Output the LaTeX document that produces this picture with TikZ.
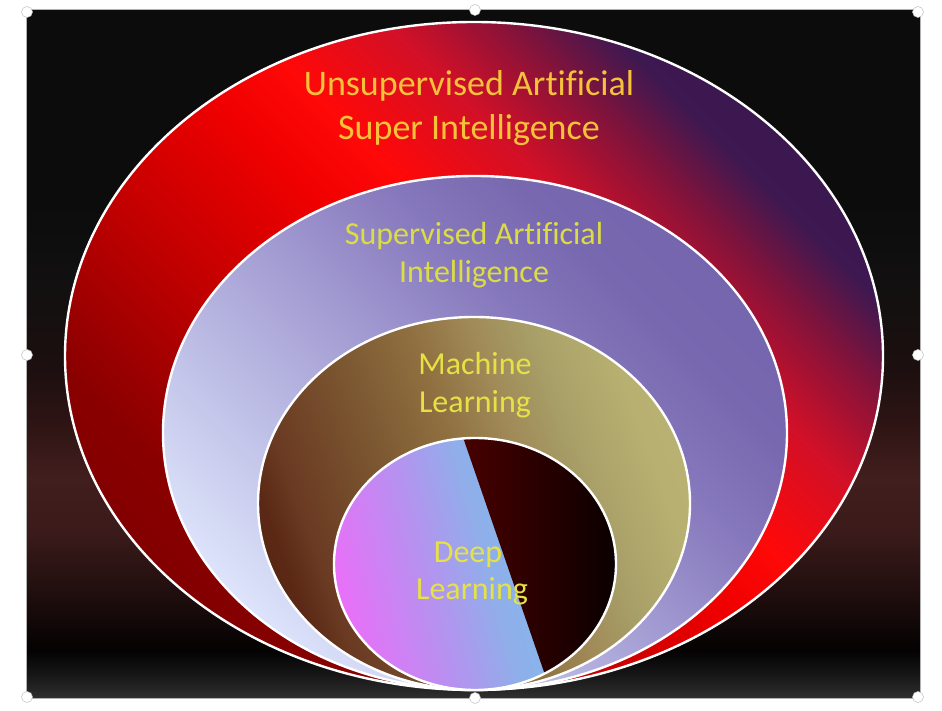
\documentclass[tikz,border=0pt]{standalone}
\usepackage{fontspec}
\setmainfont{Carlito}[Ligatures=NoCommon]
% background colours (bottom to top)
\definecolor{bga}{HTML}{303030}
\definecolor{bgb}{HTML}{1A1A1A}
\definecolor{bgc}{HTML}{040202}
\definecolor{bgd}{HTML}{1C0C0C}
\definecolor{bge}{HTML}{3A1A1A}
\definecolor{bgf}{HTML}{421E1E}
\definecolor{bgg}{HTML}{2E1414}
\definecolor{bgh}{HTML}{1C0F0F}
\definecolor{bgi}{HTML}{121010}
\definecolor{bgj}{HTML}{0C0C0C}
% outer ring
\definecolor{oa}{HTML}{600000}
\definecolor{ob}{HTML}{8A0000}
\definecolor{oc}{HTML}{C00000}
\definecolor{od}{HTML}{F00000}
\definecolor{oe}{HTML}{FF0808}
\definecolor{of}{HTML}{D01028}
\definecolor{og}{HTML}{8C1238}
\definecolor{oh}{HTML}{3E1850}
\definecolor{oi}{HTML}{2A1850}
% supervised
\definecolor{sa}{HTML}{F4F8FF}
\definecolor{sb}{HTML}{E4ECFF}
\definecolor{sc}{HTML}{C4C6EA}
\definecolor{sd}{HTML}{A098D0}
\definecolor{se}{HTML}{8678BC}
\definecolor{sf}{HTML}{7868B0}
\definecolor{sg}{HTML}{6C5CA8}
% machine learning
\definecolor{ma}{HTML}{4A2010}
\definecolor{mb}{HTML}{5A2814}
\definecolor{mc}{HTML}{6A3A22}
\definecolor{md}{HTML}{7A5530}
\definecolor{me}{HTML}{907040}
\definecolor{mf}{HTML}{A08A58}
\definecolor{mg}{HTML}{A8A068}
\definecolor{mh}{HTML}{B8B070}
\definecolor{mi}{HTML}{C0B878}
% deep learning
\definecolor{da}{HTML}{E870F8}
\definecolor{db}{HTML}{B890F0}
\definecolor{dc}{HTML}{90AEEA}
\definecolor{dd}{HTML}{70C8E8}
\definecolor{dra}{HTML}{4A0000}
\definecolor{drb}{HTML}{000000}
% text
\definecolor{txtgold}{HTML}{F5C23A}
\definecolor{txtyel}{HTML}{DCDC44}
\definecolor{txtml}{HTML}{E6E246}
\pgfdeclareverticalshading{bgshade}{100bp}{color(0bp)=(bga); color(25bp)=(bga); color(26.5bp)=(bgb); color(28.5bp)=(bgc); color(32bp)=(bgd); color(37bp)=(bge); color(41bp)=(bgf); color(45bp)=(bgg); color(49bp)=(bgh); color(55bp)=(bgi); color(61bp)=(bgj); color(100bp)=(bgj)}
\pgfdeclarehorizontalshading{outershade}{100bp}{color(0bp)=(oa); color(30bp)=(ob); color(40bp)=(oc); color(50bp)=(od); color(55bp)=(oe); color(62bp)=(of); color(67bp)=(og); color(72bp)=(oh); color(100bp)=(oi)}
\pgfdeclarehorizontalshading{supshade}{100bp}{color(0bp)=(sa); color(22bp)=(sb); color(35bp)=(sc); color(50bp)=(sd); color(60bp)=(se); color(68bp)=(sf); color(100bp)=(sg)}
\pgfdeclarehorizontalshading{mlshade}{100bp}{color(0bp)=(ma); color(26bp)=(mb); color(30bp)=(mc); color(40bp)=(md); color(50bp)=(me); color(57bp)=(mf); color(64bp)=(mg); color(72bp)=(mh); color(100bp)=(mi)}
\pgfdeclarehorizontalshading{dlleft}{100bp}{color(0bp)=(da); color(25bp)=(da); color(40bp)=(db); color(52bp)=(dc); color(75bp)=(dd); color(100bp)=(dd)}
\pgfdeclarehorizontalshading{dlright}{100bp}{color(0bp)=(dra); color(25bp)=(dra); color(75bp)=(drb); color(100bp)=(drb)}
\begin{document}
\begin{tikzpicture}[x=1pt,y=1pt,
  ring/.style={draw=white, line width=2.4},
  lbl/.style={font=\fontsize{32}{38}\selectfont, anchor=base, inner sep=0pt, text=txtyel},
  handle/.style={fill=white, draw=black!25, line width=0.5}]
\useasboundingbox (0,0) rectangle (942,711);
% frame background
\path[shading=bgshade] (26,12) rectangle (920,701);
\draw[black!30, line width=1] (26,12) rectangle (920,701);
% outer ellipse
\path[ring, shading=outershade, shading angle=45] (474,355) ellipse [x radius=409, y radius=334];
% supervised
\path[ring, shading=supshade, shading angle=45] (475,278) ellipse [x radius=312, y radius=257];
% machine learning
\path[ring, shading=mlshade, shading angle=20] (474,207.5) ellipse [x radius=216, y radius=186.5];
% deep learning
\path[shading=dlleft, shading angle=15] (475,147) ellipse [x radius=141, y radius=126];
\begin{scope}
\clip (475,147) ellipse [x radius=141, y radius=126];
\path[shading=dlright] (457,291) -- (553.7,11) -- (640,11) -- (640,291) -- cycle;
\end{scope}
\draw[ring] (475,147) ellipse [x radius=141, y radius=126];
% labels
\node[lbl, text=txtgold, font=\fontsize{36}{44}\selectfont] (u1) at (469,615) {Unsupervised Artificial};
\node[lbl, text=txtgold, font=\fontsize{36}{44}\selectfont] (u2) at (469,571) {Super Intelligence};
\node[lbl] (s1) at (474,466) {Supervised Artificial};
\node[lbl] (s2) at (474,428) {Intelligence};
\node[lbl, text=txtml] (m1) at (475,336) {Machine};
\node[lbl, text=txtml] (m2) at (475,298) {Learning};
\node[lbl, text=txtml] (d1) at (468,148) {Deep};
\node[lbl, text=txtml] (d2) at (472,111) {Learning};
% selection handles
\foreach \hx/\hy in {475/701, 475/13, 27/356, 918/356, 27/699, 918/699, 27/14, 918/14}
  \path[handle] (\hx,\hy) circle (5.5);
\end{tikzpicture}
\end{document}
